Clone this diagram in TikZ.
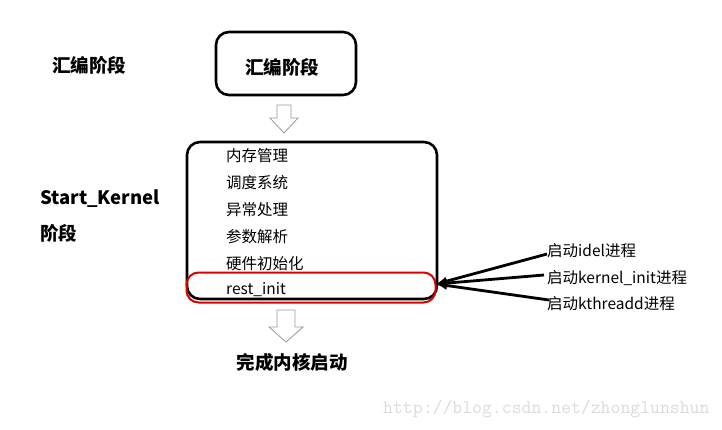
\documentclass[tikz,border=0pt]{standalone}
\usepackage{fontspec}
\setmainfont{Noto Sans CJK SC}
\usetikzlibrary{arrows.meta}
\begin{document}
\begin{tikzpicture}[x=1pt,y=-1pt,
  boxstyle/.style={draw=black,line width=2.6pt,rounded corners=13pt},
  item/.style={anchor=west,inner sep=0pt,font=\fontsize{15.5}{18}\selectfont},
  bold/.style={inner sep=0pt,font=\fontsize{18.5}{22}\selectfont\bfseries},
  side/.style={anchor=west,inner sep=0pt,font=\fontsize{15.5}{18}\selectfont},
  hollow/.style={draw=gray!80,line width=0.8pt,fill=white},
  conn/.style={draw=black,line width=2.8pt,-{Latex[length=11pt,width=9pt]}}]
\useasboundingbox (0,0) rectangle (722,429);
% top box
\node[boxstyle,minimum width=140pt,minimum height=63pt,inner sep=0pt] (asm) at (286,63.5) {};
\node[bold] (asmtxt) at (282,67) {汇编阶段};
\node[bold,anchor=west] (asmlbl) at (52,65) {汇编阶段};
% hollow arrow 1
\draw[hollow] (277,105) -- (291,105) -- (291,118) -- (298,118) -- (284,133) -- (270,118) -- (277,118) -- cycle;
% main box
\node[boxstyle,minimum width=250pt,minimum height=157pt,inner sep=0pt] (kern) at (312,220.5) {};
\node[item] (i1) at (226,156) {内存管理};
\node[item] (i2) at (226,183) {调度系统};
\node[item] (i3) at (226,210) {异常处理};
\node[item] (i4) at (226,237) {参数解析};
\node[item] (i5) at (226,264) {硬件初始化};
\node[draw=red!85!black,line width=2pt,rounded corners=12pt,minimum width=249pt,minimum height=30pt,inner sep=0pt] (rest) at (311,287.5) {};
\node[item] (i6) at (226,290) {rest\_init};
% left labels
\node[bold,anchor=west] (sk) at (40,199) {Start\_Kernel};
\node[bold,anchor=west] (skj) at (40,233) {阶段};
% hollow arrow 2
\draw[hollow] (277,310) -- (295,310) -- (295,327) -- (303,327) -- (286,342) -- (269,327) -- (277,327) -- cycle;
\node[bold] (done) at (292,362) {完成内核启动};
% side labels and connectors
\coordinate (tip) at (436,284);
\node[side] (l1) at (547,251) {启动idel进程};
\node[side] (l2) at (547,278) {启动kernel\_init进程};
\node[side] (l3) at (547,304) {启动kthreadd进程};
\draw[conn] ([yshift=-3pt]l1.west) -- (tip);
\draw[conn] ([xshift=-3pt,yshift=3pt]l2.west) -- (tip);
\draw[conn] ([xshift=2pt,yshift=4pt]l3.west) -- (tip);
% watermark
\node[anchor=west,inner sep=0pt,text=black!14,font=\ttfamily\fontsize{19.2}{20}\selectfont] (wm) at (383,409) {http://blog.csdn.net/zhonglunshun};
\end{tikzpicture}
\end{document}
